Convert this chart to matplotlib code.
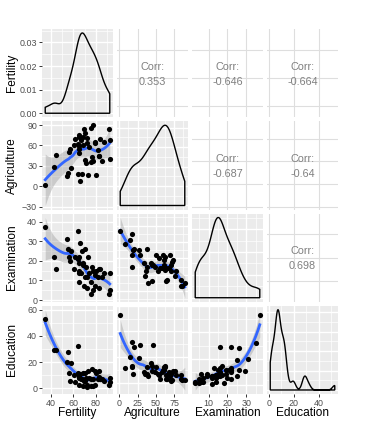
import numpy as np
import matplotlib
matplotlib.use('Agg')
import matplotlib.pyplot as plt
from matplotlib.ticker import MaxNLocator

plt.rcParams['font.family'] = ['Liberation Sans', 'DejaVu Sans']

# swiss data set (47 provinces)
fertility = [80.2, 83.1, 92.5, 85.8, 76.9, 76.1, 83.8, 92.4, 82.4, 82.9, 87.1, 64.1,
             66.9, 68.9, 61.7, 68.3, 71.7, 55.7, 54.3, 65.1, 65.5, 65.0, 56.6, 57.4,
             72.5, 74.2, 72.0, 60.5, 58.3, 65.4, 75.5, 69.3, 77.3, 70.5, 79.4, 65.0,
             92.2, 79.3, 70.4, 65.7, 72.7, 64.4, 77.6, 67.6, 35.0, 44.7, 42.8]
agriculture = [17.0, 45.1, 39.7, 36.5, 43.5, 35.3, 70.2, 67.8, 53.3, 45.2, 64.5, 62.0,
               67.5, 60.7, 69.3, 72.6, 34.0, 19.4, 15.2, 73.0, 59.8, 55.1, 50.9, 54.1,
               71.2, 58.1, 63.5, 60.8, 26.8, 49.5, 85.9, 84.9, 89.7, 78.2, 64.9, 75.9,
               84.6, 63.1, 38.4, 7.7, 16.7, 17.6, 37.6, 18.7, 1.2, 46.6, 27.7]
examination = [15, 6, 5, 12, 17, 9, 16, 14, 12, 16, 14, 21, 14, 19, 22, 18, 17, 26, 31,
               19, 22, 14, 22, 20, 12, 14, 6, 16, 25, 15, 3, 7, 5, 12, 7, 9, 3, 13, 26,
               29, 22, 35, 15, 25, 37, 16, 22]
education = [12, 9, 5, 7, 15, 7, 7, 8, 7, 13, 6, 12, 7, 12, 5, 2, 8, 28, 20, 9, 10, 3,
             12, 6, 1, 8, 3, 10, 19, 8, 2, 6, 2, 6, 3, 9, 3, 13, 12, 11, 13, 32, 7, 7,
             53, 29, 29]

names = ['Fertility', 'Agriculture', 'Examination', 'Education']
data = [np.array(v, dtype=float) for v in (fertility, agriculture, examination, education)]

# axis breaks
var_breaks = [[40, 60, 80], [0, 25, 50, 75], [10, 20, 30], [0, 20, 40]]
lower_y_breaks = [None, [-30, 0, 30, 60, 90], [0, 10, 20, 30, 40], [0, 20, 40, 60]]
dens_breaks_row1 = [0.00, 0.01, 0.02, 0.03]


def tq975(df):
    z = 1.959964
    return z + (z**3 + z) / (4 * df) + (5 * z**5 + 16 * z**3 + 3 * z) / (96 * df**2)


# local quadratic fit (loess, span 0.75) with standard error band
def loess(x, y, xs, span=0.75):
    n = len(x)
    q = int(np.floor(n * span))

    def row(x0):
        d = np.abs(x - x0)
        h = np.sort(d)[q - 1]
        u = np.clip(d / h, 0, 1)
        w = (1 - u**3)**3
        Xc = np.column_stack([np.ones(n), x - x0, (x - x0)**2])
        A = Xc.T @ (w[:, None] * Xc)
        return np.linalg.solve(A, (Xc * w[:, None]).T)[0]

    L = np.array([row(xi) for xi in x])
    res = y - L @ y
    I = np.eye(n)
    M = (I - L).T @ (I - L)
    d1 = np.trace(M)
    d2 = np.trace(M @ M)
    s = np.sqrt(np.sum(res**2) / d1)
    t = tq975(d1**2 / d2)
    Ls = np.array([row(x0) for x0 in xs])
    fit = Ls @ y
    se = s * np.sqrt(np.sum(Ls**2, axis=1))
    return fit, fit - t * se, fit + t * se


# gaussian kernel density, bw.nrd0
def kde(v):
    n = len(v)
    sd = v.std(ddof=1)
    iqr = np.subtract(*np.percentile(v, [75, 25]))
    bw = 0.9 * min(sd, iqr / 1.34) * n**-0.2
    xs = np.linspace(v.min(), v.max(), 512)
    ys = np.exp(-0.5 * ((xs[:, None] - v[None, :]) / bw)**2).sum(1) / (n * bw * np.sqrt(2 * np.pi))
    return xs, ys


def expand(lo, hi):
    r = hi - lo
    return lo - 0.05 * r, hi + 0.05 * r


def minors(br, lo, hi):
    br = np.array(br, dtype=float)
    step = br[1] - br[0]
    m = np.r_[br[0] - step / 2, br + step / 2]
    return [v for v in m if lo <= v <= hi]


W, H = 367, 433
fig = plt.figure(figsize=(W / 100, H / 100), dpi=100)
lefts = [42, 117, 192, 267]
tops = [29, 121.25, 213.5, 305.75]
pw, ph = 71, 88.25
tick_col = '#4D4D4D'

for i in range(4):
    for j in range(4):
        ax = fig.add_axes([lefts[j] / W, 1 - (tops[i] + ph) / H, pw / W, ph / H])
        for sp in ax.spines.values():
            sp.set_visible(False)
        xv, yv = data[j], data[i]
        xlim = expand(xv.min(), xv.max())
        ax.set_xlim(xlim)
        ax.set_xticks(var_breaks[j])
        ax.set_axisbelow(True)

        if i < j:
            # upper: correlation text
            ax.set_facecolor('white')
            ax.set_ylim(expand(yv.min(), yv.max()))
            ax.set_yticks(var_breaks[i])
            ax.grid(True, color='#DEDEDE', linewidth=0.8)
            c = np.corrcoef(xv, yv)[0, 1]
            ax.text(0.5, 0.575, 'Corr:', transform=ax.transAxes, ha='center', va='center',
                    color='#7F7F7F', fontsize=7.8)
            ax.text(0.5, 0.405, f'{c:.3g}', transform=ax.transAxes, ha='center', va='center',
                    color='#7F7F7F', fontsize=7.8)
        elif i == j:
            ax.set_facecolor('#EBEBEB')
            xs, ys = kde(xv)
            ax.fill(np.r_[xs[0], xs, xs[-1]], np.r_[0, ys, 0], facecolor='none',
                    edgecolor='black', linewidth=1.0)
            ax.set_ylim(expand(0, ys.max()))
            if i == 0:
                ax.set_yticks(dens_breaks_row1)
            else:
                ax.yaxis.set_major_locator(MaxNLocator(5))
        else:
            ax.set_facecolor('#EBEBEB')
            xs = np.linspace(xv.min(), xv.max(), 80)
            fit, lo, hi = loess(xv, yv, xs)
            ax.fill_between(xs, lo, hi, color='#999999', alpha=0.4, linewidth=0)
            ax.plot(xs, fit, color='#3366FF', linewidth=2.0)
            ax.scatter(xv, yv, s=14, color='black', linewidths=0, zorder=3)
            ax.set_ylim(expand(min(yv.min(), lo.min()), max(yv.max(), hi.max())))
            ax.set_yticks(lower_y_breaks[i])

        if i >= j:
            yl = ax.get_ylim()
            ax.set_xticks(minors(var_breaks[j], *xlim), minor=True)
            yb = ax.get_yticks()
            ax.set_yticks(minors(yb, *yl), minor=True)
            ax.set_ylim(yl)
            ax.grid(True, which='major', color='white', linewidth=1.0)
            ax.grid(True, which='minor', color='white', linewidth=0.5)

        ax.tick_params(which='minor', length=0)
        ax.tick_params(which='major', color='#333333', labelcolor=tick_col, labelsize=6.4,
                       length=2, width=0.7, pad=1.5)
        if j == 0:
            if i == 0:
                ax.set_yticklabels([f'{b:.2f}' for b in dens_breaks_row1])
        else:
            ax.tick_params(axis='y', length=0, labelleft=False)
        if i != 3:
            ax.tick_params(axis='x', length=0, labelbottom=False)

for k, nm in enumerate(names):
    fig.text(12 / W, 1 - (tops[k] + ph / 2) / H, nm, rotation=90, ha='center', va='center',
             fontsize=8.6, color='black')
    fig.text((lefts[k] + pw / 2) / W, 1 - 413 / H, nm, ha='center', va='center',
             fontsize=8.6, color='black')

fig.savefig('out.png', dpi=100, facecolor='white')
